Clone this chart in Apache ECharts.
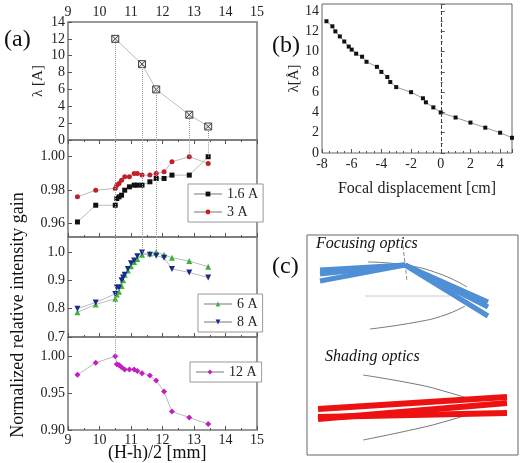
<!DOCTYPE html><html><head><meta charset="utf-8"><script src="https://cdn.jsdelivr.net/npm/echarts@6/dist/echarts.min.js"></script></head><body style="margin:0"><div id="c" style="width:520px;height:463px"></div><script>
const lamX=[10.5,11.35,11.8,12.85,13.45], lamY=[12,9,6,3,1.6];
const xA=[9.3,9.88,10.5,10.55,10.62,10.7,10.8,10.95,11.1,11.2,11.35,11.6,11.8,12.05,12.3,12.85,13.45];
const a16=[0.961,0.971,0.971,0.975,0.976,0.977,0.980,0.982,0.983,0.983,0.983,0.985,0.987,0.987,0.989,0.989,1.000];
const a3=[0.976,0.980,0.981,0.983,0.984,0.986,0.988,0.988,0.990,0.990,0.989,0.989,0.990,0.991,0.997,1.000,0.996];
const xB=[9.3,9.88,10.5,10.55,10.62,10.7,10.75,10.8,10.9,11.0,11.1,11.2,11.35,11.6,11.8,12.05,12.3,12.85,13.45];
const a6=[0.787,0.815,0.835,0.85,0.86,0.88,0.90,0.92,0.935,0.95,0.965,0.975,0.99,0.995,1.0,0.99,0.98,0.968,0.948];
const a8=[0.80,0.822,0.852,0.875,0.875,0.90,0.91,0.92,0.94,0.96,0.97,0.985,0.998,0.99,0.987,0.98,0.94,0.928,0.91];
const a12=[0.975,0.991,1.0,0.989,0.988,0.985,0.982,0.982,0.982,0.980,0.977,0.974,0.967,0.952,0.925,0.917,0.908];
const fdX=[-7.7,-7.3,-7.1,-6.8,-6.5,-6.2,-6.0,-5.7,-5.3,-5.0,-4.3,-4.0,-3.6,-3.4,-3.0,-2.0,-1.2,-1.0,-0.5,0,1,2,3,4,4.8];
const fdY=[13,12.5,12,11.5,11,10.5,10.2,9.8,9.5,9,8.5,8,7.5,7,6.5,6,5.4,5,4.5,4,3.5,3,2.5,2,1.5];
const ticks2=[0.96,0.98,1.00], ticks3=[0.7,0.8,0.9,1.0], ticks4=[0.90,0.95,1.00];
// schematic (c) strokes, in the panel's own coordinate frame
const blueIn=[[[320,270],[405,265]],[[320,274],[405,265]],[[320,281],[405,265]]];
const blueOut=[[[405,265],[488,302]],[[405,265],[488,307]],[[405,265],[488,316]]];
const redBeams=[[[318,409],[507,397]],[[318,419],[507,403]],[[318,417],[507,413]]];
const grayCurves=[[[368,262],[405,265],[440,274],[467,287]],[[370,329],[417,322],[445,315],[465,306]],[[363,375],[420,385],[447,392],[467,398]],[[363,440],[420,428],[447,421],[467,415]]];
const grayStraight=[[[365,296],[450,296]]];
const dashV=[[[403,246],[407,281]]];
const pair=(xs,ys)=>xs.map((x,i)=>[x,ys[i]]);
const F='Liberation Serif';
const lbl={fontFamily:F,fontSize:14,color:'#222'};
function xa(i,show,pos){return {gridIndex:i,type:'value',min:9,max:15,interval:1,position:pos||'bottom',axisLabel:Object.assign({show:show,margin:3},lbl),axisTick:{inside:true,length:4,lineStyle:{color:'#555'}},axisLine:{show:false},splitLine:{show:false},minorTick:{show:true,splitNumber:2,length:2}};}
function yc(i,min,max,vals,dec){return {gridIndex:i,type:'value',min:min,max:max,axisLabel:Object.assign({margin:3,customValues:vals,formatter:v=>v.toFixed(dec)},lbl),axisTick:{inside:true,length:4,customValues:vals},axisLine:{show:false},splitLine:{show:false}};}
function ya(i,min,max,iv){return {gridIndex:i,type:'value',min:min,max:max,interval:iv,axisLabel:Object.assign({margin:3},lbl),axisTick:{inside:true,length:4},axisLine:{show:false},splitLine:{show:false}};}
const grids=[{left:68,top:22,width:189,height:118},{left:68,top:140,width:189,height:97},{left:68,top:237,width:189,height:100},{left:68,top:337,width:189,height:93},{left:322,top:4,width:190,height:149},{left:307,top:235,width:211,height:220}].map((g,i)=>Object.assign({show:true,borderColor:i<4?'#777':'#666',borderWidth:i<4?1.5:1},g));
const vl=(x,y0,y1)=>[{coord:[x,y0]},{coord:[x,y1]}];
const mlStyle={symbol:'none',silent:true,label:{show:false},lineStyle:{color:'#999',type:'dotted',width:1}};
function ser(name,xi,yi,xs,ys,sym,col,size,extra){return Object.assign({name:name,type:'line',xAxisIndex:xi,yAxisIndex:yi,data:pair(xs,ys),symbol:sym,symbolSize:size||5,itemStyle:{color:col},lineStyle:{color:'#bbb',width:1}},extra||{});}
const schem=(arr,col,w,type)=>arr.map(d=>({type:'line',xAxisIndex:5,yAxisIndex:5,data:d,symbol:'none',smooth:d.length>2,silent:true,lineStyle:{color:col,width:w,type:type||'solid'}}));
const leg=(names,left,top)=>({data:names,left:left,top:top,orient:'vertical',borderColor:'#999',borderWidth:1,backgroundColor:'#fff',itemWidth:28,itemHeight:6,itemGap:4,padding:[3,5],textStyle:{fontFamily:F,fontSize:14,color:'#222'}});
const option={animation:false,
grid:grids,
legend:[leg(['1.6 A','3 A'],188,184),leg(['6 A','8 A'],198,294),leg(['12 A'],190,362)],
xAxis:[xa(0,true,'top'),xa(1,false),xa(2,false),xa(3,true),
{gridIndex:4,type:'value',min:-8,max:4.8,interval:2,axisLabel:Object.assign({margin:4,showMaxLabel:false},lbl),axisTick:{inside:true,length:4},axisLine:{show:false},splitLine:{show:false},minorTick:{show:true,splitNumber:4,length:2},name:'Focal displacement [cm]',nameLocation:'middle',nameGap:28,nameTextStyle:{fontFamily:F,fontSize:16,color:'#222'}},
{gridIndex:5,type:'value',min:307,max:518,show:false}],
yAxis:[Object.assign(ya(0,0,14,2),{name:'λ [A]',nameLocation:'middle',nameGap:22,nameTextStyle:{fontFamily:F,fontSize:15,color:'#222'}}),yc(1,0.952,1.01,ticks2,2),yc(2,0.7,1.053,ticks3,1),yc(3,0.9,1.026,ticks4,2),
Object.assign(ya(4,0,14.7,2),{minorTick:{show:true,splitNumber:2,length:2},name:'λ[Å]',nameLocation:'middle',nameGap:20,nameTextStyle:{fontFamily:F,fontSize:15,color:'#222'}}),
{gridIndex:5,type:'value',min:235,max:455,inverse:true,show:false}],
series:[
ser('lam',0,0,lamX,lamY,'path://M0,0H10V10H0ZM0,0L10,10M10,0L0,10','#eee',7,{itemStyle:{color:'#eee',borderColor:'#444',borderWidth:1},markLine:Object.assign({data:lamX.map((x,i)=>vl(x,0,lamY[i]))},mlStyle)}),
ser('1.6 A',1,1,xA,a16,'rect','#111',5,{markLine:Object.assign({data:[vl(10.5,0.952,1.01),vl(11.35,0.952,1.01),vl(11.8,0.952,1.01),vl(12.85,1.0,1.01),vl(13.45,1.0,1.01)]},mlStyle)}),
ser('3 A',1,1,xA,a3,'circle','#c0202a',5),
ser('6 A',2,2,xB,a6,'triangle','#3cb43c',6,{markLine:Object.assign({data:[vl(10.5,0.7,1.053),vl(11.35,1.0,1.053),vl(11.8,1.0,1.053)]},mlStyle)}),
ser('8 A',2,2,xB,a8,'path://M0,0H10L5,9Z','#1a2a8a',6),
ser('12 A',3,3,xA,a12,'diamond','#c020c0',6,{markLine:Object.assign({data:[vl(10.5,1.0,1.026)]},mlStyle)}),
ser('fd',4,4,fdX,fdY,'rect','#111',4,{lineStyle:{color:'#999',width:1},markLine:Object.assign({},mlStyle,{lineStyle:{color:'#444',type:'dashed',width:1},data:[{xAxis:0}]})}),
...schem(grayStraight,'#ccc',1),...schem(grayCurves,'#777',1),...schem(dashV,'#888',1,'dashed'),
...schem(blueIn,'#4f8fd6',5),...schem(blueOut,'#4f8fd6',5),...schem(redBeams,'#ee1111',6)],
graphic:[
{type:'text',left:4,top:28,style:{text:'(a)',font:'24px "Liberation Serif"',fill:'#111'}},
{type:'text',left:272,top:34,style:{text:'(b)',font:'24px "Liberation Serif"',fill:'#111'}},
{type:'text',left:272,top:255,style:{text:'(c)',font:'24px "Liberation Serif"',fill:'#111'}},
{type:'text',x:18,y:315,rotation:Math.PI/2,style:{text:'Normalized relative intensity gain',font:'18px "Liberation Serif"',fill:'#111',align:'center',verticalAlign:'middle'}},
{type:'text',left:108,top:444,style:{text:'(H-h)/2 [mm]',font:'18px "Liberation Serif"',fill:'#111'}},
{type:'text',left:316,top:236,style:{text:'Focusing optics',font:'italic 16px "Liberation Serif"',fill:'#111'}},
{type:'text',left:325,top:349,style:{text:'Shading optics',font:'italic 16px "Liberation Serif"',fill:'#111'}}
]};
echarts.init(document.getElementById('c')).setOption(option);
</script></body></html>
